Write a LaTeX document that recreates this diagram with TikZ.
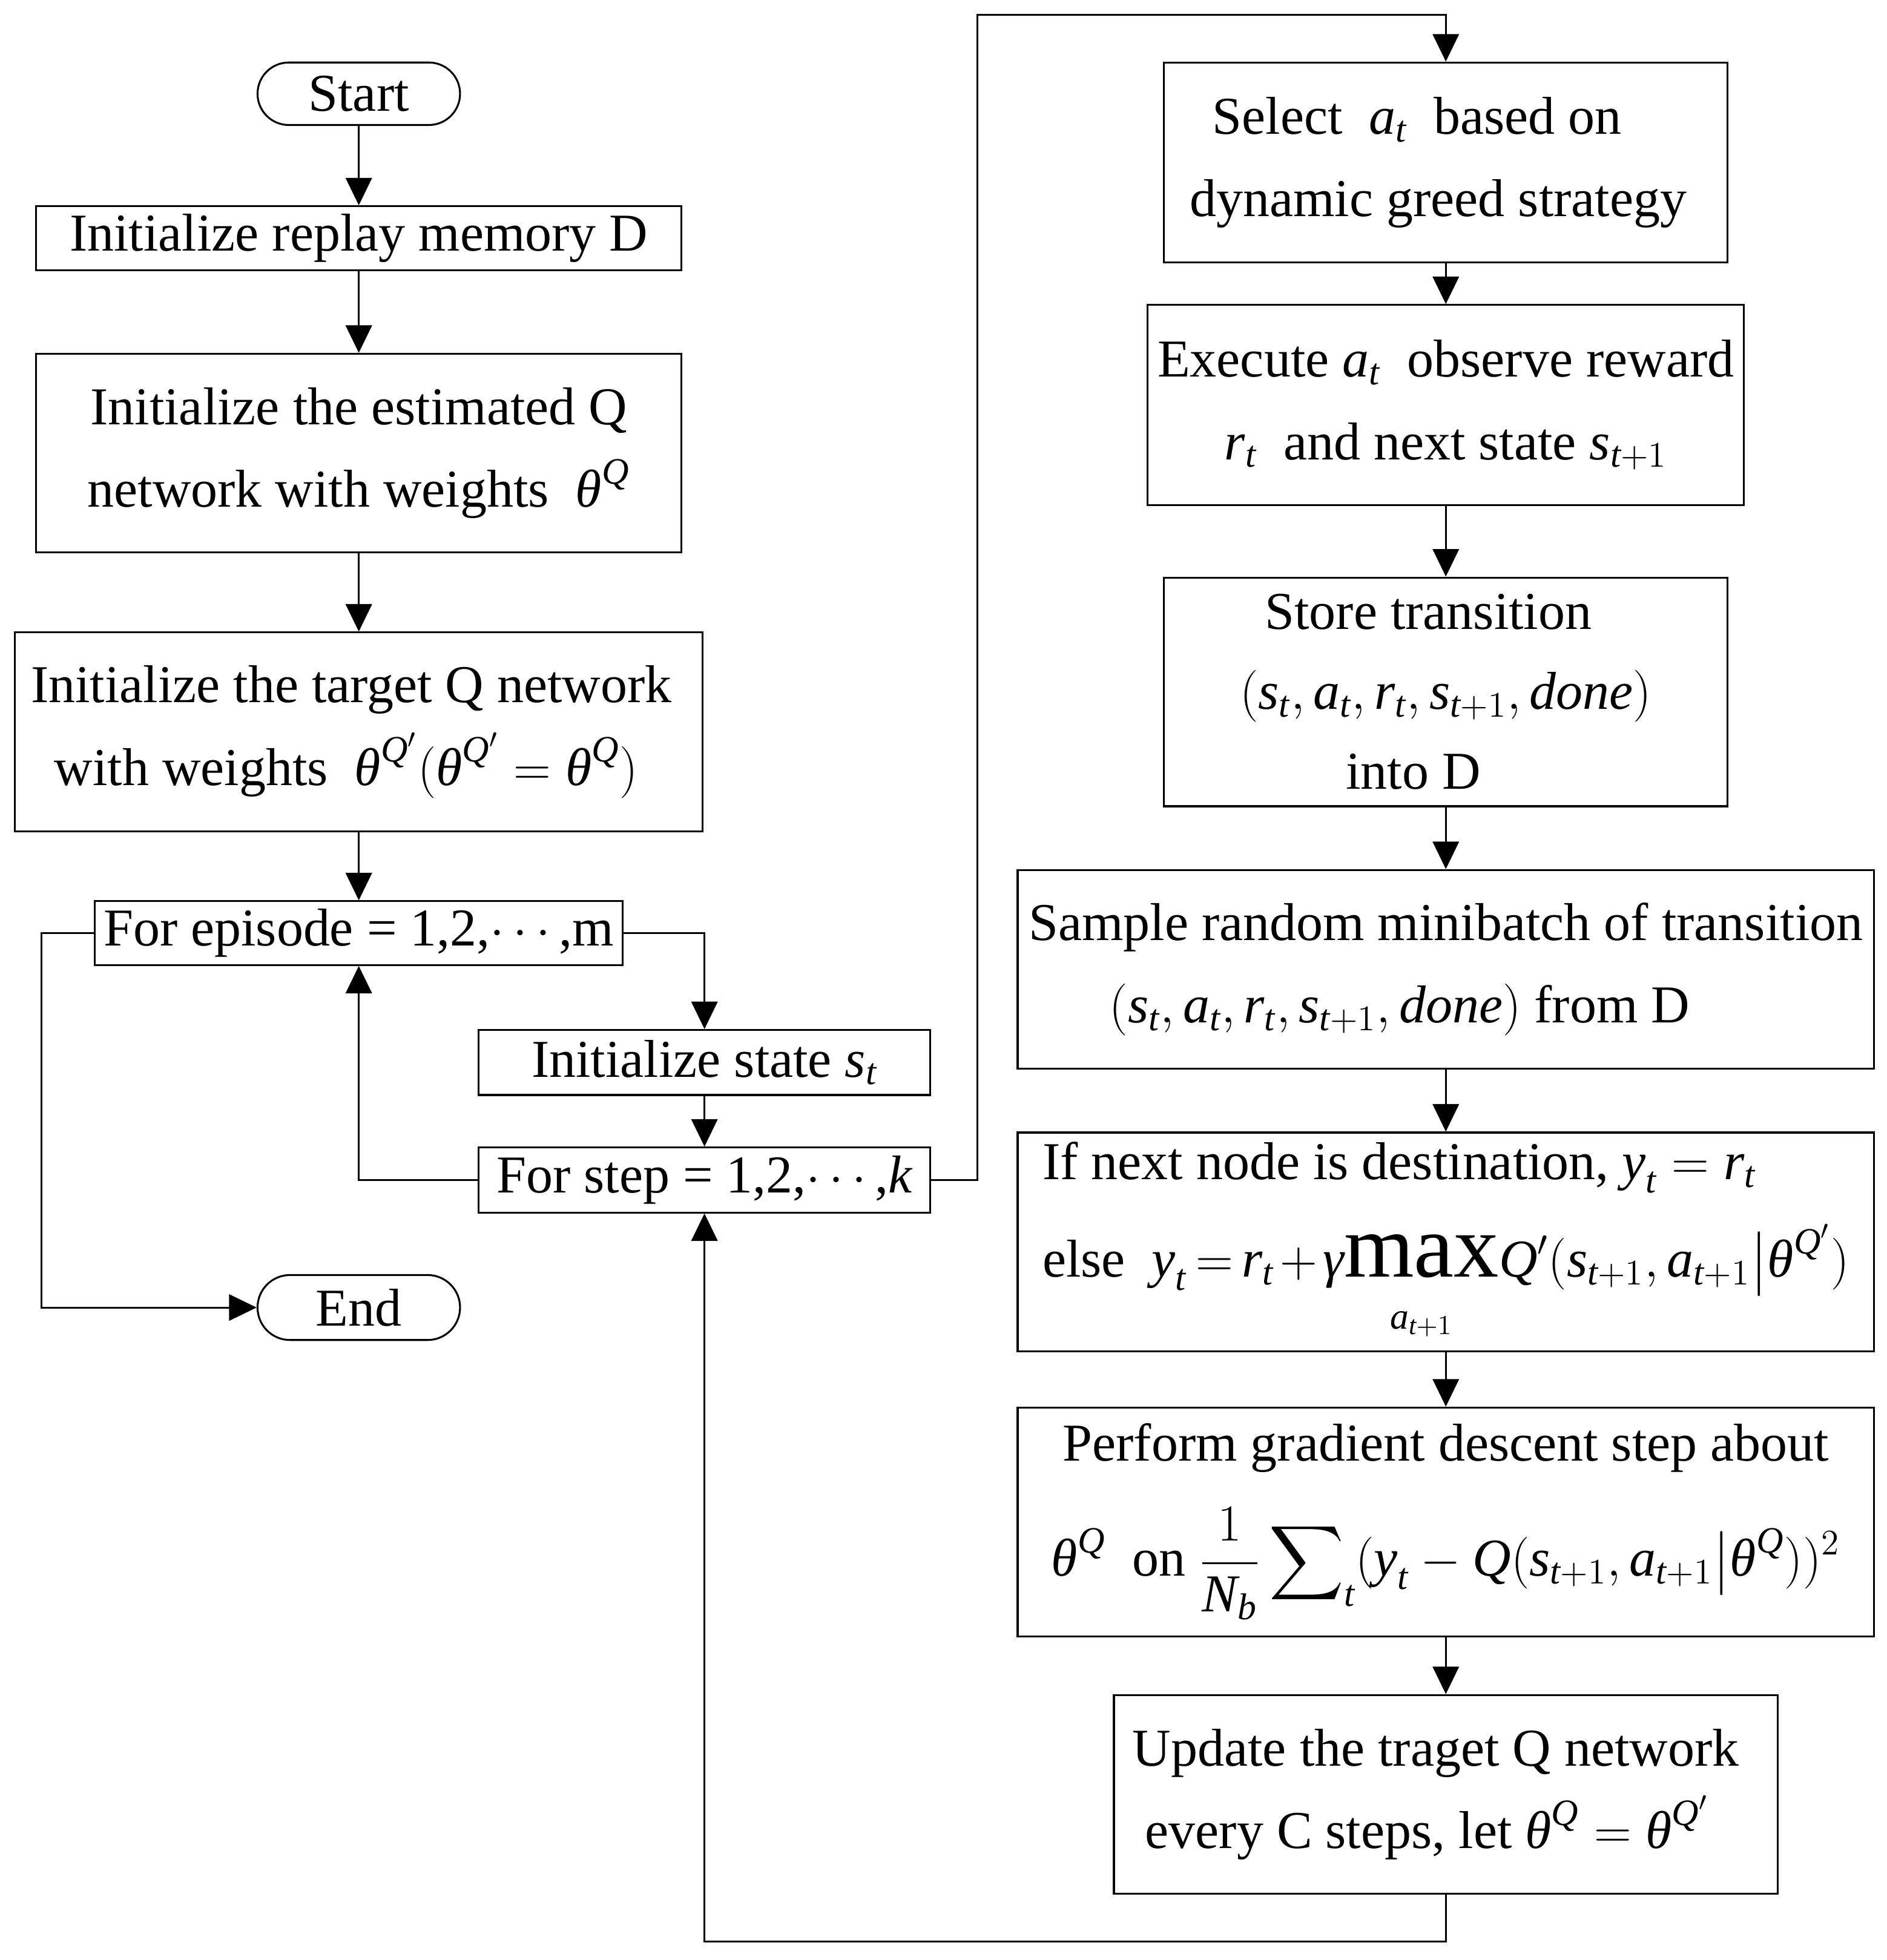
\documentclass[tikz,border=0pt]{standalone}
\usepackage{amsmath}
\usepackage{fontspec}
\setmainfont{Liberation Serif}
\usetikzlibrary{arrows.meta,shapes.misc}
\newcommand{\vv}[1]{\text{\itshape #1}}
\begin{document}
\begin{tikzpicture}[x=0.5pt,y=-0.5pt,
  every node/.style={font=\fontsize{21.3}{33}\selectfont, inner sep=0pt},
  box/.style={draw, line width=0.75pt, rectangle, align=center},
  term/.style={draw, line width=0.75pt, rounded rectangle},
  arr/.style={line width=0.75pt, -{Triangle[length=11pt,width=10.5pt]}},
  ln/.style={line width=0.75pt}]
\useasboundingbox (0,0) rectangle (1509,1568);

% left column
\node[term, minimum width=81pt, minimum height=25pt] (start) at (287,75) {Start};
\node[box, minimum width=258pt, minimum height=25.5pt] (mem) at (287,190.5) {Initialize replay memory D};
\node[box, minimum width=258pt, minimum height=79.5pt] (est) at (287,362.5)
  {Initialize the estimated Q\\ network with weights \ $\vv{θ}^{\vv{Q}}$};
\node[box, minimum width=275pt, minimum height=79.5pt] (tgt) at (287,585.5)
  {Initialize the target Q network\hspace*{6pt}\\ with weights \ $\vv{θ}^{\vv{Q}'}(\vv{θ}^{\vv{Q}'}=\vv{θ}^{\vv{Q}})$\hspace*{10pt}};
\node[box, minimum width=211pt, minimum height=25.5pt] (ep) at (287,746.5) {For episode = 1,2,$\cdots$,m};
\node[box, minimum width=180.5pt, minimum height=26pt] (ist) at (563.5,850) {Initialize state $\vv{s}_{\vv{t}}$};
\node[box, minimum width=180.5pt, minimum height=26pt] (stp) at (563.5,944) {For step = 1,2,$\cdots$,$\vv{k}$};
\node[term, minimum width=81pt, minimum height=26pt] (end) at (287,1046) {End};

% right column
\node[box, minimum width=225.5pt, minimum height=80pt] (sel) at (1156.5,130)
  {Select \ $\vv{a}_{\vv{t}}$ \ based on\hspace*{23pt}\\ dynamic greed strategy\hspace*{6pt}};
\node[box, minimum width=238.5pt, minimum height=80pt] (exe) at (1156.5,324)
  {Execute $\vv{a}_{\vv{t}}$ \ observe reward\\ $\vv{r}_{\vv{t}}$ \ and next state $\vv{s}_{\vv{t}+1}$};
\node[box, minimum width=225.5pt, minimum height=91.5pt] (sto) at (1156.5,553.5)
  {Store transition\hspace*{14pt}\\[-1pt] $(\vv{s}_{\vv{t}},\vv{a}_{\vv{t}},\vv{r}_{\vv{t}},\vv{s}_{\vv{t}+1},\vv{done})$\hspace*{10pt}\\[-1pt] into D\hspace*{26pt}};
\node[box, minimum width=342.5pt, minimum height=79.5pt] (smp) at (1156.5,775.5)
  {Sample random minibatch of transition\\ $(\vv{s}_{\vv{t}},\vv{a}_{\vv{t}},\vv{r}_{\vv{t}},\vv{s}_{\vv{t}+1},\vv{done})$ from D\hspace*{37pt}};
\node[box, align=left, minimum width=342.5pt, minimum height=87.5pt] (tq) at (1156.5,993.5)
  {If next node is destination, $\vv{y}_{\vv{t}}=\vv{r}_{\vv{t}}$\\[6pt]
   else \ $\thickmuskip=3mu plus 1mu\medmuskip=2mu\vv{y}_{\vv{t}}=\vv{r}_{\vv{t}}+\vv{γ}\underset{\vv{a}_{\vv{t}+1}\rule{0pt}{17pt}}{\text{\fontsize{36}{36}\selectfont max}}\vv{Q}'(\vv{s}_{\vv{t}+1}{,}\,\vv{a}_{\vv{t}+1}\big|\vv{θ}^{\vv{Q}'})$};
\node[box, minimum width=342.5pt, minimum height=91.5pt] (gd) at (1156.5,1217.5)
  {Perform gradient descent step about\\[13pt]
   $\vv{θ}^{\vv{Q}}$ \ on $\dfrac{1}{\vv{N}_{\vv{b}}}\displaystyle\sum\nolimits_{\vv{t}}(\vv{y}_{\vv{t}}-\vv{Q}(\vv{s}_{\vv{t}+1},\vv{a}_{\vv{t}+1}\big|\vv{θ}^{\vv{Q}}))^2$};
\node[box, minimum width=265.5pt, minimum height=79.5pt] (upd) at (1156.5,1435.5)
  {Update the traget Q network\hspace*{8pt}\\ every C steps, let $\vv{θ}^{\vv{Q}}=\vv{θ}^{\vv{Q}'}$\hspace*{15pt}};

% helper coordinates
\coordinate (lp) at (33,746.5);
\coordinate (c1) at (782,12);
\coordinate (c2) at (1156.5,1553);

% connectors
\draw[arr] (start) -- (mem);
\draw[arr] (mem) -- (est);
\draw[arr] (est) -- (tgt);
\draw[arr] (tgt) -- (ep);
\draw[arr] (ep.east) -| (ist.north);
\draw[arr] (ist) -- (stp);
\draw[arr] (stp.west) -| (ep.south);
\draw[arr] (ep.west) -- (lp) |- (end.west);
\draw[arr] (stp.east) -| (c1) -- (c1 -| sel.north) -- (sel.north);
\draw[arr] (sel) -- (exe);
\draw[arr] (exe) -- (sto);
\draw[arr] (sto) -- (smp);
\draw[arr] (smp) -- (tq);
\draw[arr] (tq) -- (gd);
\draw[arr] (gd) -- (upd);
\draw[arr] (upd.south) -- (c2) -| (stp.south);
\end{tikzpicture}
\end{document}
